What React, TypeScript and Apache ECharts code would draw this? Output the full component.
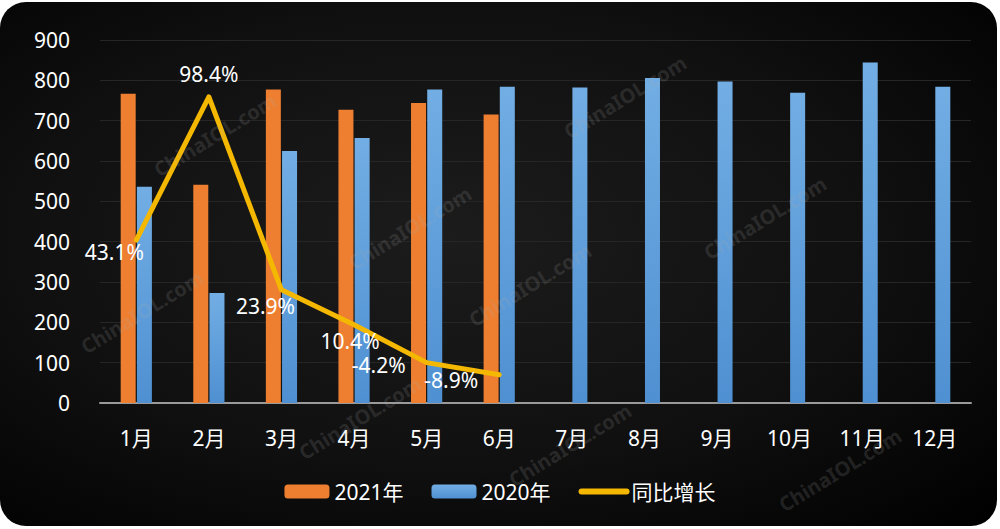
import React, { useEffect, useRef } from "react";
import * as echarts from "echarts";

const months = ["1月", "2月", "3月", "4月", "5月", "6月", "7月", "8月", "9月", "10月", "11月", "12月"];
const values2021 = [767, 541, 777, 727, 744, 715];
const values2020 = [536, 273, 625, 657, 777, 784, 782, 806, 797, 769, 844, 784];
const growth = [43.1, 98.4, 23.9, 10.4, -4.2, -8.9];
const yTicks = [0, 100, 200, 300, 400, 500, 600, 700, 800, 900];

const labelPlacement: any[] = [
  { position: "bottom", offset: [-22, -5] },
  { position: "top", offset: [0, -6] },
  { position: "bottom", offset: [-16, 0] },
  { position: "bottom", offset: [-4, 0] },
  { position: "left", offset: [-15, 2] },
  { position: "left", offset: [-15, 5] },
];

const watermarks = [
  [215, 135], [142, 312], [360, 418], [410, 228], [530, 285],
  [625, 97], [765, 218], [570, 445], [840, 470],
];

const FONT = "'Noto Sans', 'Noto Sans CJK SC', sans-serif";

export default function App() {
  const ref = useRef<HTMLDivElement>(null);
  useEffect(() => {
    if (!ref.current) return;
    const chart = echarts.init(ref.current, null, { renderer: "svg" });
    chart.setOption({
      animation: false,
      backgroundColor: "transparent",
      textStyle: { fontFamily: FONT },
      grid: { left: 100, right: 29, top: 40, bottom: 126, containLabel: false },
      legend: {
        bottom: 22,
        left: "center",
        itemWidth: 45,
        itemHeight: 14,
        itemGap: 28,
        textStyle: { color: "#ffffff", fontSize: 21, fontFamily: FONT },
        data: [
          { name: "2021年" },
          { name: "2020年" },
          { name: "同比增长", itemStyle: { opacity: 0 }, lineStyle: { width: 6, cap: "round" } },
        ],
      },
      xAxis: {
        type: "category",
        data: months,
        axisLine: { show: true, lineStyle: { color: "#9a9a9a", width: 2 } },
        axisTick: { show: false },
        axisLabel: { color: "#ffffff", fontSize: 21, margin: 24, fontFamily: FONT },
      },
      yAxis: [
        {
          type: "value",
          min: yTicks[0],
          max: yTicks[yTicks.length - 1],
          interval: 100,
          axisLine: { show: false },
          axisTick: { show: false },
          axisLabel: { color: "#ffffff", fontSize: 21, margin: 30, fontFamily: FONT },
          splitLine: { lineStyle: { color: "#262626", width: 1 } },
        },
        {
          type: "value",
          min: -19.8,
          max: 120.4,
          show: false,
          splitLine: { show: false },
        },
      ],
      graphic: watermarks.map(([x, y]) => ({
        type: "text",
        x,
        y,
        rotation: 0.55,
        silent: true,
        z: 100,
        style: {
          text: "ChinaIOL.com",
          fill: "rgba(170,170,170,0.18)",
          font: `bold 20px ${FONT}`,
          align: "center",
          verticalAlign: "middle",
        },
      })),
      series: [
        {
          name: "2021年",
          type: "bar",
          data: values2021,
          barWidth: 15,
          barGap: "8%",
          itemStyle: { color: "#EE7F30" },
        },
        {
          name: "2020年",
          type: "bar",
          data: values2020,
          barWidth: 15,
          itemStyle: {
            color: new echarts.graphic.LinearGradient(0, 0, 0, 1, [
              { offset: 0, color: "#72aee4" },
              { offset: 1, color: "#4f90d2" },
            ]),
          },
        },
        {
          name: "同比增长",
          type: "line",
          yAxisIndex: 1,
          data: growth.map((v, i) => ({
            value: v,
            label: labelPlacement[i],
          })),
          symbol: "circle",
          symbolSize: 2,
          itemStyle: { color: "#F5B800" },
          lineStyle: { color: "#F5B800", width: 5, cap: "round", join: "round" },
          label: {
            show: true,
            formatter: "{c}%",
            color: "#ffffff",
            fontSize: 21,
            fontFamily: FONT,
          },
          z: 10,
        },
      ],
    });
    return () => chart.dispose();
  }, []);

  return (
    <div
      style={{
        position: "absolute",
        left: 0,
        top: 0,
        width: 1000,
        height: 529,
        background: "#ffffff",
      }}
    >
      <div
        style={{
          position: "absolute",
          left: 0,
          top: 2,
          width: 997,
          height: 524,
          borderRadius: 26,
          background: "radial-gradient(ellipse at 45% 45%, #1c1c1c 0%, #101010 55%, #000000 100%)",
          overflow: "hidden",
        }}
      >
        <div ref={ref} style={{ position: "absolute", left: 0, top: -2, width: 1000, height: 529 }} />
      </div>
    </div>
  );
}
